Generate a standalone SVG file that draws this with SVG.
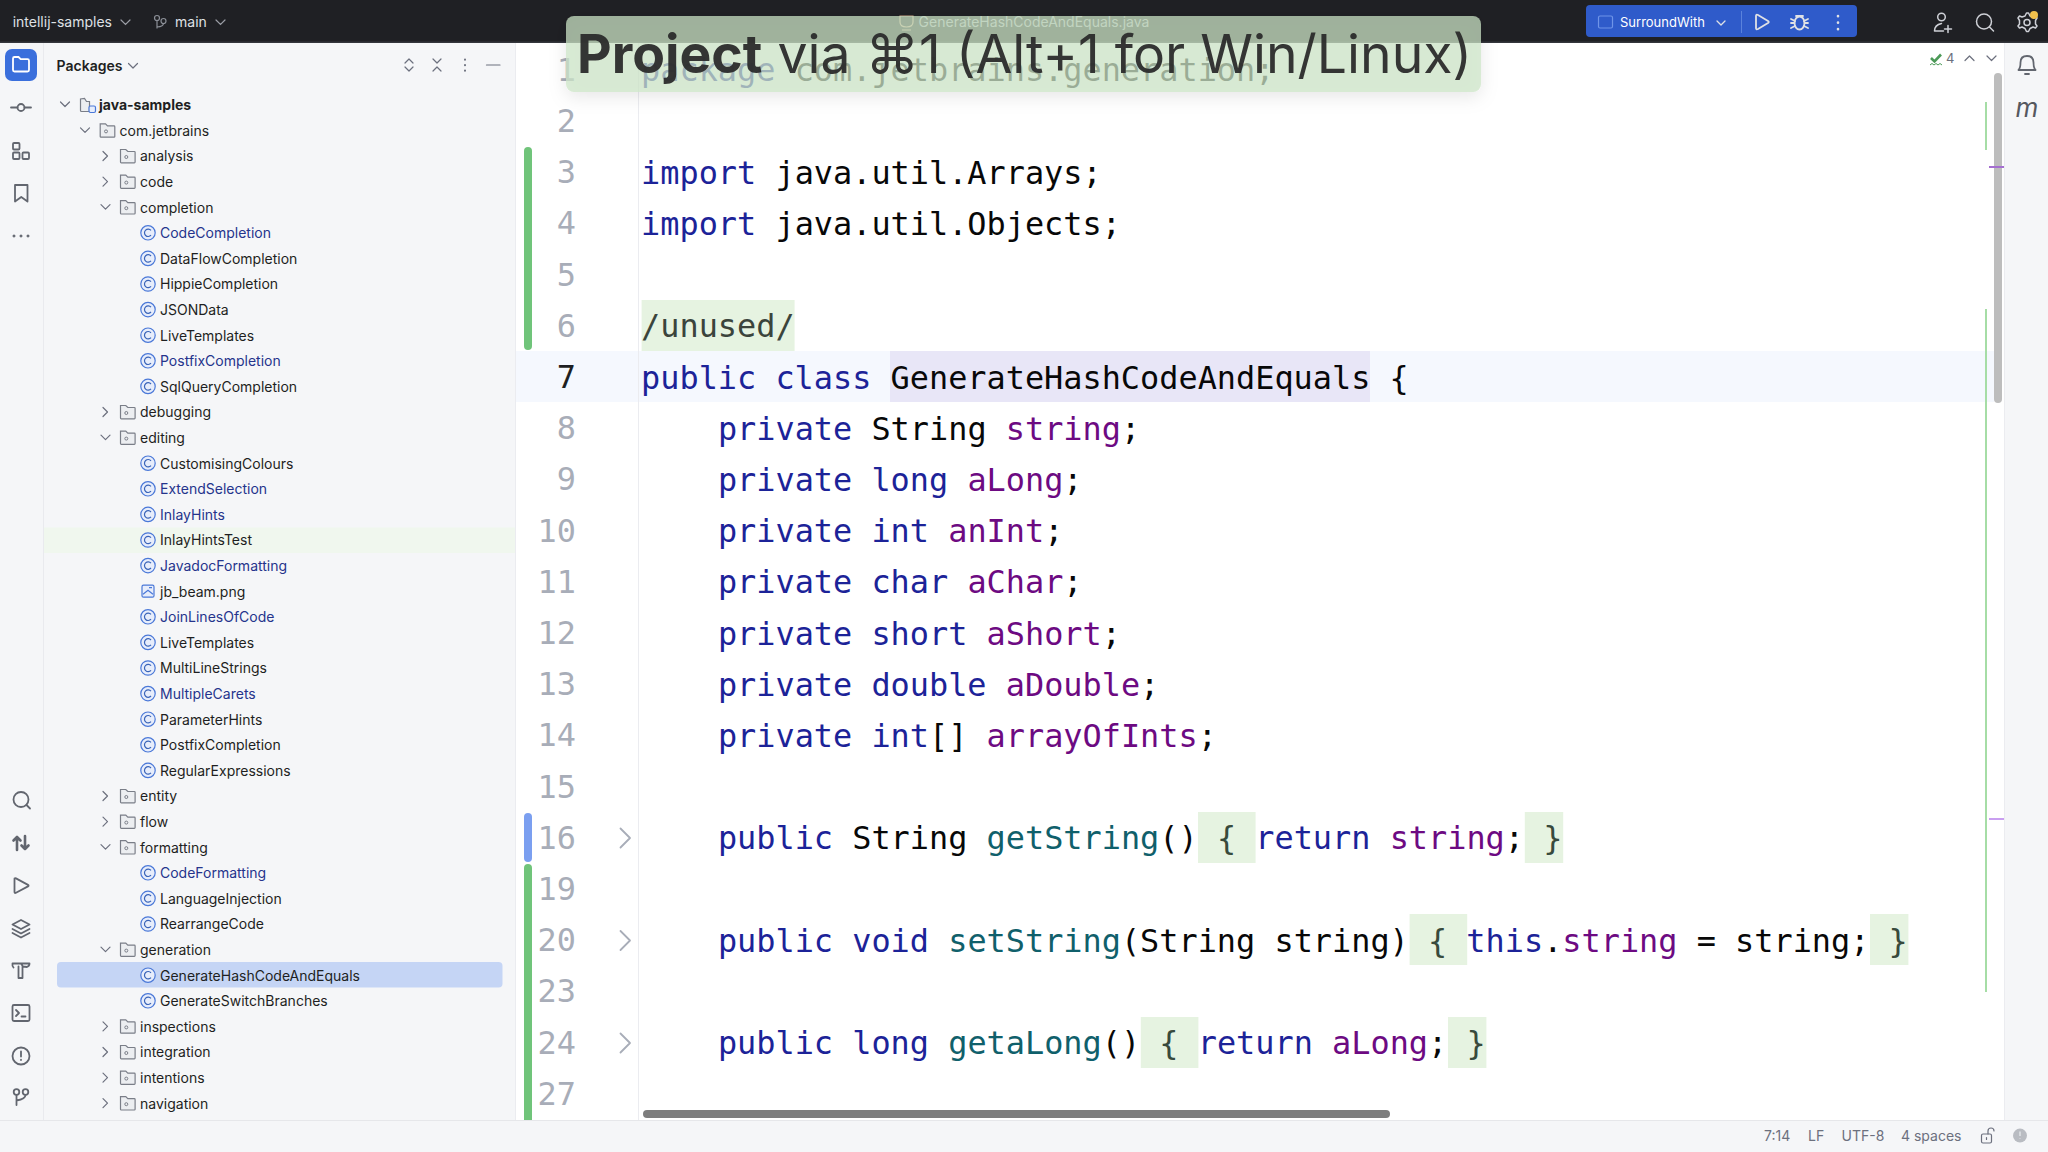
<svg xmlns="http://www.w3.org/2000/svg" width="2048" height="1152" viewBox="0 0 2048 1152">
<style>
text{white-space:pre}
.ui{font-family:"Inter","Noto Sans",sans-serif;font-size:14px;fill:#1e1f22}
.bl{fill:#25348c}
.ln,.cd{font-family:"DejaVu Sans Mono",monospace;font-size:31.89px}
.ln{fill:#a8adb8;text-anchor:end}
.cd{fill:#080808}
.k{fill:#1c2398}.f{fill:#6d0a82}.m{fill:#10606b}.g{fill:#384a3c}
.st{font-family:"Inter","Noto Sans",sans-serif;font-size:14px;fill:#6c707e}
.ic{fill:none;stroke:#62666f;stroke-width:1.8;stroke-linecap:round;stroke-linejoin:round}
.tb{fill:none;stroke:#dfe1e5;stroke-width:1.8;stroke-linecap:round;stroke-linejoin:round}
.ch{fill:none;stroke:#6c707e;stroke-width:1.2;stroke-linecap:round;stroke-linejoin:round}
.add{fill:#e6f3e1}
</style>
<defs>
<path id="cd" class="ch" d="M-4.500-2.500L0 2L4.500-2.500"/>
<path id="cr" class="ch" d="M-2-4.500L2.500 0L-2 4.500"/>
<g id="pk"><path d="M-7.300-6.500H-2L0-4.500H6.500Q7.300-4.500 7.300-3.700V6Q7.300 6.800 6.500 6.800H-6.500Q-7.300 6.800-7.300 6Z" fill="#eceef1" stroke="#7a7e88" stroke-width="1.200"/><circle cx="-1.500" cy="1" r="1.500" fill="none" stroke="#7a7e88" stroke-width="1"/></g>
<g id="cl"><circle r="7.200" fill="#e7edfb" stroke="#4a78d8" stroke-width="1.200"/><path d="M3-2.400A3.700 3.700 0 1 0 3 2.400" fill="none" stroke="#3a64b8" stroke-width="1.200"/></g>
<g id="im"><rect x="-6" y="-6" width="12" height="12" rx="1.500" fill="#e7edfb" stroke="#4a78d8" stroke-width="1.200"/><path d="M-5 3L0-1L5 3M1-3.500h3" fill="none" stroke="#4a78d8" stroke-width="1.200"/></g>
<filter id="sh" x="-5%" y="-30%" width="110%" height="170%"><feDropShadow dx="0" dy="5" stdDeviation="9" flood-color="#000" flood-opacity=".13"/></filter>
</defs>

<rect width="2048" height="1152" fill="#fff"/>

<g id="sidepanel">
<rect y="42" width="515" height="1078" fill="#f5f6f8"/>
<rect x="43" y="42" width="1" height="1078" fill="#e9eaee"/>
<rect x="515" y="42" width="1" height="1078" fill="#ebecf0"/>
<rect x="44" y="527.500" width="471" height="25.500" fill="#f0f7ee"/>
<rect x="57" y="962" width="445.500" height="25.600" rx="4" fill="#c5d5f5"/>
</g>

<g id="toolbar">
<rect x="5" y="49" width="32" height="32" rx="7" fill="#3a6fdc"/>
<path d="M13 58.500q0-1.500 1.500-1.500h4l2.200 2.200h6.800q1.500 0 1.500 1.500v9.300q0 1.500-1.500 1.500h-13q-1.500 0-1.500-1.500z" fill="#3a6fdc" stroke="#fff" stroke-width="1.800"/>
<g class="ic">
<circle cx="21" cy="107.500" r="3.500"/><path d="M11 107.500h6.500M24.500 107.500h6.500"/>
<rect x="13" y="143" width="6.500" height="6.500" rx="1"/><rect x="13" y="152.500" width="6.500" height="6.500" rx="1"/><rect x="22.500" y="152.500" width="6.500" height="6.500" rx="1"/>
<path d="M15 185h12.500v16.500l-6.250-4.500-6.250 4.500z"/>
<circle cx="14" cy="236" r=".6"/><circle cx="21" cy="236" r=".6"/><circle cx="28" cy="236" r=".6"/>
<circle cx="21" cy="799.500" r="7.500"/><path d="M26.500 805l3.500 3.500"/>
<path d="M17 837v13M13.500 840.500l3.500-3.500 3.500 3.500M25 849v-13M21.500 845.500l3.500 3.500 3.500-3.500" stroke-width="2.600"/>
<path d="M14.500 878.500v13.500q0 1.500 1.500.7l12-6.300q1.200-.8 0-1.500l-12-6.500q-1.500-.8-1.500.9z"/>
<path d="M21 920l8.500 4.500-8.500 4.500-8.500-4.500zM12.500 929l8.500 4.500 8.500-4.500M12.500 933l8.500 4.500 8.500-4.500"/>
<path d="M12.500 963.500h17q0 2.500-2.500 3.500l-4-.5-2-3M18.500 966.500v11.500h4v-11.500M12.500 963.500q-.5 3 1 4"/>
<rect x="12.500" y="1005" width="17" height="16" rx="1.500"/><path d="M16 1010l3 3-3 3M21.500 1016.500h4"/>
<circle cx="21" cy="1056" r="8.500"/><path d="M21 1051.500v5M21 1059.700v.4"/>
<circle cx="16.500" cy="1092" r="2.800"/><circle cx="25.500" cy="1092" r="2.800"/><path d="M16.500 1095v10M25.500 1095q0 4-9 5.500"/>
</g>
</g>

<g id="tree">
<text class="ui" x="56.600" y="70.500" style="font-weight:600">Packages</text>
<use href="#cd" x="133" y="66"/>
<g class="ch" stroke-width="1.200">
<path d="M405 63l4-4 4 4M405 67l4 4 4-4"/>
<path d="M433 59l4 4 4-4M433 71l4-4 4 4"/>
<path d="M465 59.500v.2M465 65v.2M465 70.500v.2" stroke-width="2"/>
<path d="M486.500 65h13.500"/>
</g>
<g><use href="#cd" x="65" y="104.500"/><path d="M80.500 99v11.500q0 1 1 1h8v-10h-3l-2-3z" fill="#eceef1" stroke="#7a7e88" stroke-width="1.200"/><rect x="89" y="106" width="6.500" height="6.500" rx="1.500" fill="#e7edfb" stroke="#4a78d8" stroke-width="1.200"/><text class="ui" x="99" y="110.200" style="font-weight:700">java-samples</text></g>
<g transform="translate(0,130.400)"><use href="#cd" x="85"/><use href="#pk" x="107.500"/><text class="ui" x="119.600" y="5.400">com.jetbrains</text></g>
<g transform="translate(0,156)"><use href="#cr" x="105"/><use href="#pk" x="127.800"/><text class="ui" x="140" y="5.400">analysis</text></g>
<g transform="translate(0,181.600)"><use href="#cr" x="105"/><use href="#pk" x="127.800"/><text class="ui" x="140" y="5.400">code</text></g>
<g transform="translate(0,207.200)"><use href="#cd" x="105.500"/><use href="#pk" x="127.800"/><text class="ui" x="140" y="5.400">completion</text></g>
<g transform="translate(0,232.800)"><use href="#cl" x="148"/><text class="ui bl" x="160" y="5.400">CodeCompletion</text></g>
<g transform="translate(0,258.400)"><use href="#cl" x="148"/><text class="ui" x="160" y="5.400">DataFlowCompletion</text></g>
<g transform="translate(0,284)"><use href="#cl" x="148"/><text class="ui" x="160" y="5.400">HippieCompletion</text></g>
<g transform="translate(0,309.600)"><use href="#cl" x="148"/><text class="ui" x="160" y="5.400">JSONData</text></g>
<g transform="translate(0,335.200)"><use href="#cl" x="148"/><text class="ui" x="160" y="5.400">LiveTemplates</text></g>
<g transform="translate(0,360.800)"><use href="#cl" x="148"/><text class="ui bl" x="160" y="5.400">PostfixCompletion</text></g>
<g transform="translate(0,386.400)"><use href="#cl" x="148"/><text class="ui" x="160" y="5.400">SqlQueryCompletion</text></g>
<g transform="translate(0,412)"><use href="#cr" x="105"/><use href="#pk" x="127.800"/><text class="ui" x="140" y="5.400">debugging</text></g>
<g transform="translate(0,437.600)"><use href="#cd" x="105.500"/><use href="#pk" x="127.800"/><text class="ui" x="140" y="5.400">editing</text></g>
<g transform="translate(0,463.200)"><use href="#cl" x="148"/><text class="ui" x="160" y="5.400">CustomisingColours</text></g>
<g transform="translate(0,488.800)"><use href="#cl" x="148"/><text class="ui bl" x="160" y="5.400">ExtendSelection</text></g>
<g transform="translate(0,514.400)"><use href="#cl" x="148"/><text class="ui bl" x="160" y="5.400">InlayHints</text></g>
<g transform="translate(0,540)"><use href="#cl" x="148"/><text class="ui" x="160" y="5.400">InlayHintsTest</text></g>
<g transform="translate(0,565.600)"><use href="#cl" x="148"/><text class="ui bl" x="160" y="5.400">JavadocFormatting</text></g>
<g transform="translate(0,591.200)"><use href="#im" x="148"/><text class="ui" x="160" y="5.400">jb_beam.png</text></g>
<g transform="translate(0,616.800)"><use href="#cl" x="148"/><text class="ui bl" x="160" y="5.400">JoinLinesOfCode</text></g>
<g transform="translate(0,642.400)"><use href="#cl" x="148"/><text class="ui" x="160" y="5.400">LiveTemplates</text></g>
<g transform="translate(0,668)"><use href="#cl" x="148"/><text class="ui" x="160" y="5.400">MultiLineStrings</text></g>
<g transform="translate(0,693.600)"><use href="#cl" x="148"/><text class="ui bl" x="160" y="5.400">MultipleCarets</text></g>
<g transform="translate(0,719.200)"><use href="#cl" x="148"/><text class="ui" x="160" y="5.400">ParameterHints</text></g>
<g transform="translate(0,744.800)"><use href="#cl" x="148"/><text class="ui" x="160" y="5.400">PostfixCompletion</text></g>
<g transform="translate(0,770.400)"><use href="#cl" x="148"/><text class="ui" x="160" y="5.400">RegularExpressions</text></g>
<g transform="translate(0,796)"><use href="#cr" x="105"/><use href="#pk" x="127.800"/><text class="ui" x="140" y="5.400">entity</text></g>
<g transform="translate(0,821.600)"><use href="#cr" x="105"/><use href="#pk" x="127.800"/><text class="ui" x="140" y="5.400">flow</text></g>
<g transform="translate(0,847.200)"><use href="#cd" x="105.500"/><use href="#pk" x="127.800"/><text class="ui" x="140" y="5.400">formatting</text></g>
<g transform="translate(0,872.800)"><use href="#cl" x="148"/><text class="ui bl" x="160" y="5.400">CodeFormatting</text></g>
<g transform="translate(0,898.400)"><use href="#cl" x="148"/><text class="ui" x="160" y="5.400">LanguageInjection</text></g>
<g transform="translate(0,924)"><use href="#cl" x="148"/><text class="ui" x="160" y="5.400">RearrangeCode</text></g>
<g transform="translate(0,949.600)"><use href="#cd" x="105.500"/><use href="#pk" x="127.800"/><text class="ui" x="140" y="5.400">generation</text></g>
<g transform="translate(0,975.200)"><use href="#cl" x="148"/><text class="ui" x="160" y="5.400">GenerateHashCodeAndEquals</text></g>
<g transform="translate(0,1000.800)"><use href="#cl" x="148"/><text class="ui" x="160" y="5.400">GenerateSwitchBranches</text></g>
<g transform="translate(0,1026.400)"><use href="#cr" x="105"/><use href="#pk" x="127.800"/><text class="ui" x="140" y="5.400">inspections</text></g>
<g transform="translate(0,1052)"><use href="#cr" x="105"/><use href="#pk" x="127.800"/><text class="ui" x="140" y="5.400">integration</text></g>
<g transform="translate(0,1077.600)"><use href="#cr" x="105"/><use href="#pk" x="127.800"/><text class="ui" x="140" y="5.400">intentions</text></g>
<g transform="translate(0,1103.200)"><use href="#cr" x="105"/><use href="#pk" x="127.800"/><text class="ui" x="140" y="5.400">navigation</text></g>
</g>

<g id="editor">
<rect x="516" y="351" width="1478" height="51" fill="#f5f8fe"/>
<rect x="638" y="42" width="1" height="1078" fill="#ebecf0"/>
<rect x="641.600" y="300" width="153" height="51" class="add"/>
<rect x="890" y="351" width="480" height="51" fill="#e8e6f7"/>
<rect x="1198" y="812" width="57.600" height="51" class="add"/>
<rect x="1524.800" y="812" width="38.400" height="51" class="add"/>
<rect x="1409.600" y="914" width="57.600" height="51" class="add"/>
<rect x="1870" y="914" width="38.400" height="51" class="add"/>
<rect x="1140.800" y="1017" width="57.600" height="51" class="add"/>
<rect x="1448" y="1017" width="38.400" height="51" class="add"/>
<rect x="524" y="147" width="8" height="203" rx="4" fill="#70c47a"/>
<rect x="524" y="813" width="8" height="49" rx="4" fill="#7b9ff0"/>
<path d="M524 1120V868q0-4 4-4t4 4v252z" fill="#70c47a"/>
<g>
<text class="ln" x="576" y="80.800">1</text><text class="ln" x="576" y="132">2</text><text class="ln" x="576" y="183.200">3</text><text class="ln" x="576" y="234.400">4</text><text class="ln" x="576" y="285.600">5</text><text class="ln" x="576" y="336.800">6</text><text class="ln" x="576" y="388" style="fill:#1e1f22">7</text><text class="ln" x="576" y="439.200">8</text><text class="ln" x="576" y="490.400">9</text><text class="ln" x="576" y="541.600">10</text><text class="ln" x="576" y="592.800">11</text><text class="ln" x="576" y="644">12</text><text class="ln" x="576" y="695.200">13</text><text class="ln" x="576" y="746.400">14</text><text class="ln" x="576" y="797.600">15</text><text class="ln" x="576" y="848.800">16</text><text class="ln" x="576" y="900">19</text><text class="ln" x="576" y="951.200">20</text><text class="ln" x="576" y="1002.400">23</text><text class="ln" x="576" y="1053.600">24</text><text class="ln" x="576" y="1104.800">27</text>
</g>
<g fill="none" stroke="#a8adb8" stroke-width="1.800" stroke-linecap="round" stroke-linejoin="round">
<path d="M620.500 828.500L630 838L620.500 847.500"/>
<path d="M620.500 931L630 940.500L620.500 950"/>
<path d="M620.500 1033.500L630 1043L620.500 1052.500"/>
</g>
<g transform="translate(-.5,.5)">
<text class="cd" x="641.600" y="80.800"><tspan class="k">package</tspan> com.jetbrains.generation;</text>
<text class="cd" x="641.600" y="183.200"><tspan class="k">import</tspan> java.util.Arrays;</text>
<text class="cd" x="641.600" y="234.400"><tspan class="k">import</tspan> java.util.Objects;</text>
<text class="cd" x="641.600" y="336.800" style="fill:#3b443c">/unused/</text>
<text class="cd" x="641.600" y="388"><tspan class="k">public class</tspan> GenerateHashCodeAndEquals {</text>
<text class="cd" x="718.400" y="439.200"><tspan class="k">private</tspan> String <tspan class="f">string</tspan>;</text>
<text class="cd" x="718.400" y="490.400"><tspan class="k">private long</tspan> <tspan class="f">aLong</tspan>;</text>
<text class="cd" x="718.400" y="541.600"><tspan class="k">private int</tspan> <tspan class="f">anInt</tspan>;</text>
<text class="cd" x="718.400" y="592.800"><tspan class="k">private char</tspan> <tspan class="f">aChar</tspan>;</text>
<text class="cd" x="718.400" y="644"><tspan class="k">private short</tspan> <tspan class="f">aShort</tspan>;</text>
<text class="cd" x="718.400" y="695.200"><tspan class="k">private double</tspan> <tspan class="f">aDouble</tspan>;</text>
<text class="cd" x="718.400" y="746.400"><tspan class="k">private int</tspan>[] <tspan class="f">arrayOfInts</tspan>;</text>
<text class="cd" x="718.400" y="848.800"><tspan class="k">public</tspan> String <tspan class="m">getString</tspan>()<tspan class="g"> { </tspan><tspan class="k">return</tspan> <tspan class="f">string</tspan>;<tspan class="g"> }</tspan></text>
<text class="cd" x="718.400" y="951.200"><tspan class="k">public void</tspan> <tspan class="m">setString</tspan>(String string)<tspan class="g"> { </tspan><tspan class="k">this</tspan>.<tspan class="f">string</tspan> = string;<tspan class="g"> }</tspan></text>
<text class="cd" x="718.400" y="1053.600"><tspan class="k">public long</tspan> <tspan class="m">getaLong</tspan>()<tspan class="g"> { </tspan><tspan class="k">return</tspan> <tspan class="f">aLong</tspan>;<tspan class="g"> }</tspan></text>
</g>
<rect x="643" y="1110" width="747" height="8" rx="4" fill="#7d7d7d"/>
<rect x="1994" y="73" width="8" height="330" rx="4" fill="#bdbdbd"/>
<rect x="1985" y="102" width="2" height="48" fill="#a6dda6"/>
<rect x="1985" y="309" width="2" height="683" fill="#a6dda6"/>
<rect x="1989" y="166" width="15" height="2" fill="#a56fd0"/>
<rect x="1989" y="818" width="15" height="2" fill="#c99ff0"/>
<path d="M1931 58l3.500 3.500 6.500-7" fill="none" stroke="#4c9a58" stroke-width="2.600"/><path d="M1930 65l2-1.500 2 1.500 2-1.500 2 1.500 2-1.500 2 1.500" fill="none" stroke="#4c9a58" stroke-width="1"/>
<text class="st" x="1946" y="63" style="font-size:13px">4</text>
<path class="ch" d="M1965 60.500l4.500-4.500 4.500 4.500M1987 56l4.500 4.500 4.500-4.500"/>
</g>

<g id="toolstrip">
<rect x="2004" y="42" width="44" height="1078" fill="#f5f6f8"/>
<rect x="2004" y="42" width="1" height="1078" fill="#ebecf0"/>
<g class="ic"><path d="M2018.500 70q2-2 2-7.500q0-6.500 6.500-6.500t6.500 6.500q0 5.500 2 7.500zM2025 74h4"/></g>
<text x="2027" y="117" text-anchor="middle" style="font-family:'Inter',sans-serif;font-style:italic;font-size:26px;fill:#55585f">m</text>
</g>

<g id="statusbar">
<rect y="1120" width="2048" height="32" fill="#f5f6f8"/>
<rect y="1120" width="2048" height="1" fill="#e6e7ea"/>
<text class="st" x="1764" y="1141">7:14</text>
<text class="st" x="1808" y="1141">LF</text>
<text class="st" x="1841.600" y="1141">UTF-8</text>
<text class="st" x="1901" y="1141">4 spaces</text>
<g class="ch"><rect x="1981.500" y="1134" width="10" height="9" rx="1.500"/><path d="M1988 1134v-3q0-3 3-3t3 3M1986.500 1137.500v2"/></g>
<circle cx="2020" cy="1135.600" r="7" fill="#b9bcc2"/><path d="M2020 1131.500v4.500M2020 1138.500v.5" stroke="#dfe1e5" stroke-width="1.600"/>
</g>

<g id="titlebar">
<rect width="2048" height="42" fill="#1f2024"/>
<rect y="41.500" width="2048" height="1.500" fill="#34363c"/>
<text x="12.700" y="27" style="font-family:'Inter',sans-serif;font-size:14px;fill:#dfe1e5">intellij-samples</text>
<path d="M121 20l4.500 4.500 4.500-4.500M216 20l4.500 4.500 4.500-4.500" fill="none" stroke="#9a9da5" stroke-width="1.200" stroke-linecap="round"/>
<g fill="none" stroke="#8b8f97" stroke-width="1.200"><circle cx="157" cy="18" r="2.500"/><circle cx="163.500" cy="21" r="2.500"/><path d="M157 20.500v8M163.500 23.500q0 3-6.500 3.500"/></g>
<text x="175" y="27" style="font-family:'Inter',sans-serif;font-size:14px;fill:#dfe1e5">main</text>
<path d="M900 16h13v6q0 5-6.500 5t-6.500-5zM902 30h9" fill="none" stroke="#c9a082" stroke-width="1.200"/>
<text x="918.600" y="27" style="font-family:'Inter',sans-serif;font-size:14px;fill:#a6aab2">GenerateHashCodeAndEquals.java</text>
<rect x="1586" y="5" width="271" height="32" rx="4" fill="#2f5bca"/>
<rect x="1598.500" y="16" width="14" height="12" rx="1.500" fill="none" stroke="#6f94e8" stroke-width="1.200"/>
<text x="1620" y="27" style="font-family:'Inter',sans-serif;font-size:13px;fill:#fff">SurroundWith</text>
<g class="tb"><path d="M1717 21l4 4 4-4" stroke-width="1.300"/><path d="M1756 16q0-2 2-1l10 6q1.500 1 0 2l-10 6q-2 1-2-1z"/><ellipse cx="1799.500" cy="23" rx="5" ry="6.500"/><path d="M1796 16l7 0M1791 19l4 2M1808 19l-4 2M1791 23h3.500M1808 23h-3.500M1791 28l4-2M1808 28l-4-2"/><path d="M1838 16v.2M1838 22.500v.2M1838 29v.2" stroke-width="2.600"/></g>
<rect x="1741" y="11" width="1" height="22" fill="#5a82dc"/>
<g fill="none" stroke="#ced0d6" stroke-width="1.500" stroke-linecap="round" stroke-linejoin="round"><circle cx="1941.500" cy="17" r="3.800"/><path d="M1934.500 31q0-6 7-7.500M1934.500 31h9M1944.500 29h7M1948 25.500v7"/><circle cx="1984" cy="21.500" r="7.500"/><path d="M1989.500 27l4 4"/><path d="M2026.500 13l2 0 1.500 3 3 1 2.500-1 1.500 2-1.500 2.500 0 3.500 1.500 2-1.500 2-2.500-1-3 1.500-1.500 3h-2l-1.500-3-3-1.500-2.500 1-1.500-2 1.500-2v-3.500l-1.500-2.500 1.500-2 2.500 1 3-1z"/><circle cx="2027" cy="22.500" r="3"/></g>
<circle cx="2034" cy="15" r="4" fill="#f2c14c"/>
</g>

<g id="overlay">
<rect x="566" y="16" width="915" height="76" rx="8" fill="#cce5c7" fill-opacity=".73" filter="url(#sh)"/>
<text x="577" y="73" style="font-family:'Inter','DejaVu Sans',sans-serif;font-size:53.500px;fill:#2b2b2b;fill-opacity:.95"><tspan style="font-weight:700">Project</tspan> via ⌘1 (Alt+1 for Win/Linux)</text>
</g>
</svg>
